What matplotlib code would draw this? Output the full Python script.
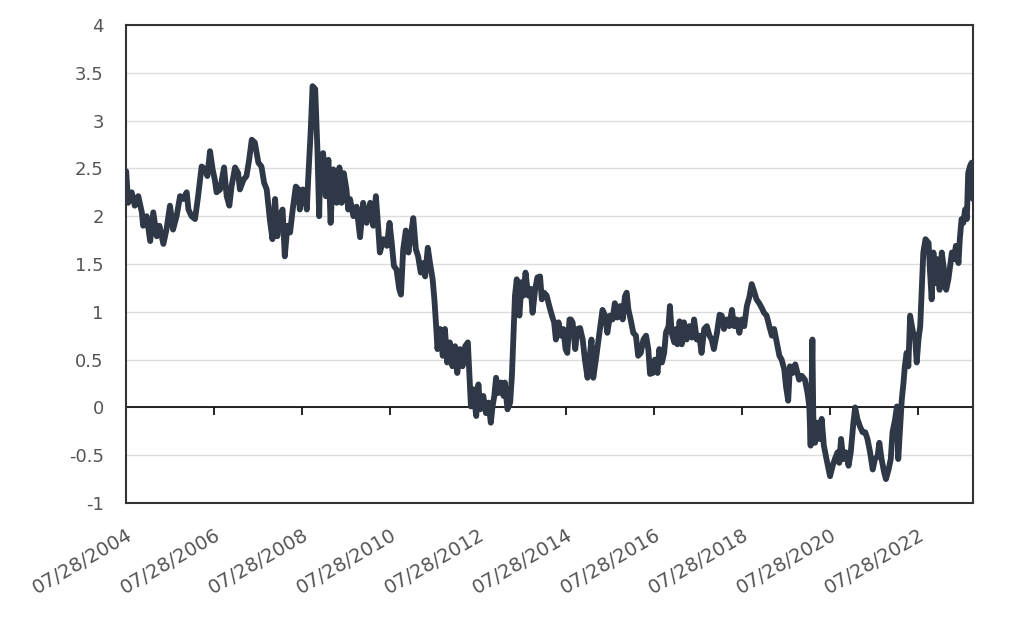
import matplotlib

matplotlib.use("Agg")
import matplotlib.pyplot as plt
import matplotlib.markers as mmarkers
import pandas as pd

# decimal-year positions and values
years = [
    2004.575, 2004.62, 2004.70, 2004.77, 2004.85, 2004.93, 2004.96, 2005.04, 2005.12, 2005.19,
    2005.27, 2005.33, 2005.42, 2005.49, 2005.57, 2005.64, 2005.72, 2005.80, 2005.87, 2005.95,
    2005.99, 2006.06, 2006.14, 2006.21, 2006.29, 2006.37, 2006.42, 2006.48, 2006.54, 2006.59,
    2006.63, 2006.71, 2006.80, 2006.86, 2006.92, 2006.97, 2007.05, 2007.12, 2007.16, 2007.24,
    2007.31, 2007.37, 2007.43, 2007.50, 2007.58, 2007.65, 2007.71, 2007.77, 2007.84, 2007.90,
    2007.96, 2008.01, 2008.07, 2008.13, 2008.18, 2008.24, 2008.30, 2008.36, 2008.43, 2008.49,
    2008.52, 2008.59, 2008.64, 2008.68, 2008.71, 2008.77, 2008.81, 2008.87, 2008.92, 2008.96,
    2008.99, 2009.05, 2009.11, 2009.17, 2009.22, 2009.28, 2009.36, 2009.42, 2009.47, 2009.52,
    2009.58, 2009.62, 2009.66, 2009.74, 2009.81, 2009.89, 2009.96, 2010.04, 2010.12, 2010.19,
    2010.25, 2010.31, 2010.34, 2010.42, 2010.50, 2010.56, 2010.61, 2010.66, 2010.72, 2010.78,
    2010.82, 2010.87, 2010.93, 2010.99, 2011.04, 2011.10, 2011.16, 2011.21, 2011.27, 2011.33,
    2011.37, 2011.43, 2011.48, 2011.54, 2011.58, 2011.62, 2011.65, 2011.71, 2011.77, 2011.82,
    2011.87, 2011.93, 2011.99, 2012.05, 2012.10, 2012.16, 2012.22, 2012.28, 2012.34, 2012.37,
    2012.41, 2012.46, 2012.53, 2012.58, 2012.62, 2012.69, 2012.75, 2012.81, 2012.86, 2012.90,
    2012.94, 2012.98, 2013.03, 2013.09, 2013.15, 2013.18, 2013.24, 2013.30, 2013.34, 2013.37,
    2013.41, 2013.45, 2013.51, 2013.56, 2013.60, 2013.65, 2013.71, 2013.77, 2013.81, 2013.87,
    2013.92, 2013.98, 2014.02, 2014.07, 2014.13, 2014.19, 2014.25, 2014.30, 2014.34, 2014.40,
    2014.45, 2014.51, 2014.56, 2014.60, 2014.65, 2014.68, 2014.72, 2014.78, 2014.83, 2014.89,
    2014.95, 2015.00, 2015.06, 2015.12, 2015.15, 2015.19, 2015.25, 2015.31, 2015.34, 2015.40,
    2015.46, 2015.51, 2015.57, 2015.63, 2015.68, 2015.74, 2015.80, 2015.86, 2015.91, 2015.95,
    2015.99, 2016.04, 2016.10, 2016.16, 2016.21, 2016.27, 2016.33, 2016.39, 2016.44, 2016.48,
    2016.54, 2016.59, 2016.65, 2016.69, 2016.75, 2016.80, 2016.84, 2016.90, 2016.93, 2016.97,
    2017.03, 2017.07, 2017.10, 2017.15, 2017.20, 2017.25, 2017.31, 2017.37, 2017.43, 2017.48,
    2017.54, 2017.60, 2017.65, 2017.71, 2017.77, 2017.83, 2017.88, 2017.93, 2018.00, 2018.06,
    2018.11, 2018.16, 2018.22, 2018.28, 2018.34, 2018.39, 2018.45, 2018.51, 2018.56, 2018.62,
    2018.68, 2018.74, 2018.79, 2018.84, 2018.90, 2018.96, 2019.02, 2019.07, 2019.13, 2019.19,
    2019.25, 2019.30, 2019.36, 2019.42, 2019.47, 2019.53, 2019.57, 2019.62, 2019.66, 2019.72,
    2019.78, 2019.83, 2019.87, 2019.93, 2020.00, 2020.06, 2020.10, 2020.13, 2020.17, 2020.19,
    2020.23, 2020.28, 2020.33, 2020.38, 2020.43, 2020.49, 2020.57, 2020.63, 2020.68, 2020.74,
    2020.78, 2020.82, 2020.87, 2020.93, 2020.99, 2021.04, 2021.10, 2021.14, 2021.19, 2021.25,
    2021.31, 2021.37, 2021.42, 2021.48, 2021.54, 2021.59, 2021.65, 2021.69, 2021.74, 2021.80,
    2021.84, 2021.90, 2021.95, 2021.99, 2022.05, 2022.09, 2022.12, 2022.16, 2022.20, 2022.24,
    2022.27, 2022.31, 2022.35, 2022.39, 2022.43, 2022.46, 2022.50, 2022.54, 2022.58, 2022.62,
    2022.65, 2022.69, 2022.74, 2022.81, 2022.84, 2022.88, 2022.92, 2022.97, 2023.01, 2023.06,
    2023.11, 2023.16, 2023.21, 2023.26, 2023.30, 2023.34, 2023.39, 2023.43, 2023.49, 2023.52,
    2023.56, 2023.60, 2023.64, 2023.68, 2023.71, 2023.75, 2023.79, 2023.82,
]
values = [
    2.47, 2.14, 2.25, 2.11, 2.21, 2.04, 1.90, 2.00, 1.74, 2.04,
    1.79, 1.90, 1.71, 1.86, 2.11, 1.86, 2.00, 2.21, 2.18, 2.25,
    2.07, 2.00, 1.97, 2.21, 2.52, 2.49, 2.42, 2.68, 2.49, 2.38,
    2.25, 2.28, 2.51, 2.21, 2.11, 2.31, 2.51, 2.45, 2.28, 2.38,
    2.42, 2.59, 2.80, 2.77, 2.56, 2.52, 2.35, 2.28, 1.97, 1.76,
    2.18, 1.79, 2.00, 2.07, 1.58, 1.90, 1.83, 2.07, 2.31, 2.28,
    2.07, 2.28, 2.21, 2.07, 2.38, 2.91, 3.36, 3.33, 2.70, 2.00,
    2.63, 2.66, 2.21, 2.59, 1.93, 2.49, 2.14, 2.51, 2.14, 2.45,
    2.28, 2.07, 2.18, 2.00, 2.10, 1.78, 2.14, 1.93, 2.14, 1.90,
    2.21, 1.83, 1.62, 1.76, 1.69, 1.93, 1.72, 1.48, 1.44, 1.24,
    1.18, 1.65, 1.85, 1.62, 1.79, 1.98, 1.65, 1.58, 1.41, 1.51,
    1.37, 1.67, 1.51, 1.34, 1.13, 0.85, 0.61, 0.82, 0.54, 0.82,
    0.47, 0.68, 0.43, 0.64, 0.36, 0.61, 0.43, 0.64, 0.68, 0.40,
    0.01, 0.19, -0.09, 0.24, -0.02, 0.12, -0.06, 0.05, -0.16, 0.01,
    0.12, 0.31, 0.15, 0.26, 0.12, 0.26, -0.02, 0.05, 0.33, 0.68,
    1.17, 1.34, 0.96, 1.31, 1.17, 1.41, 1.17, 1.24, 0.99, 1.24,
    1.36, 1.37, 1.13, 1.20, 1.17, 1.06, 0.96, 0.89, 0.71, 0.89,
    0.75, 0.82, 0.61, 0.57, 0.92, 0.92, 0.89, 0.61, 0.82, 0.83,
    0.71, 0.50, 0.31, 0.57, 0.71, 0.31, 0.50, 0.71, 0.82, 1.02,
    0.96, 0.78, 0.96, 0.92, 1.09, 0.94, 1.06, 0.92, 1.16, 1.20,
    1.02, 0.92, 0.78, 0.75, 0.54, 0.57, 0.71, 0.75, 0.61, 0.35,
    0.36, 0.50, 0.36, 0.61, 0.47, 0.57, 0.78, 0.85, 1.06, 0.78,
    0.68, 0.82, 0.66, 0.90, 0.66, 0.89, 0.71, 0.85, 0.73, 0.92,
    0.71, 0.75, 0.57, 0.82, 0.85, 0.75, 0.71, 0.61, 0.78, 0.97,
    0.96, 0.82, 0.92, 0.85, 1.02, 0.85, 0.92, 0.78, 0.92, 0.85,
    1.06, 1.16, 1.29, 1.22, 1.13, 1.09, 1.04, 0.99, 0.96, 0.85,
    0.75, 0.82, 0.68, 0.54, 0.50, 0.40, 0.22, 0.07, 0.43, 0.36,
    0.45, 0.36, 0.29, 0.33, 0.29, 0.15, 0.01, -0.40, 0.71, -0.09,
    -0.37, -0.16, -0.33, -0.12, -0.40, -0.54, -0.72, -0.61, -0.54, -0.47,
    -0.58, -0.33, -0.54, -0.47, -0.61, -0.47, -0.16, 0.00, -0.12, -0.20,
    -0.26, -0.26, -0.33, -0.47, -0.65, -0.54, -0.51, -0.37, -0.54, -0.68,
    -0.75, -0.65, -0.54, -0.26, -0.12, 0.01, -0.54, -0.23, 0.08, 0.26,
    0.43, 0.57, 0.43, 0.96, 0.85, 0.78, 0.75, 0.47, 0.71, 0.85,
    1.17, 1.62, 1.76, 1.72, 1.44, 1.13, 1.62, 1.30, 1.55, 1.23,
    1.62, 1.44, 1.23, 1.34, 1.48, 1.62, 1.55, 1.69, 1.51, 1.76,
    1.97, 1.93, 2.07, 1.97, 2.45, 2.52, 2.56, 2.18,
]
tick_years = [2004, 2006, 2008, 2010, 2012, 2014, 2016, 2018, 2020, 2022]
y_ticks = [-1, -0.5, 0, 0.5, 1, 1.5, 2, 2.5, 3, 3.5, 4]

LINE_COLOR = "#2f3846"
TEXT_COLOR = "#555555"


def to_date(y):
    year = int(y)
    start = pd.Timestamp(year, 1, 1)
    end = pd.Timestamp(year + 1, 1, 1)
    return start + (end - start) * (y - year)


dates = [to_date(y) for y in years]
tick_dates = [pd.Timestamp(year, 7, 28) for year in tick_years]

plt.rcParams["font.family"] = ["DejaVu Sans"]
plt.rcParams["axes.unicode_minus"] = False

fig = plt.figure(figsize=(10.24, 6.17), dpi=100)
ax = fig.add_axes([126 / 1024, 1 - 503 / 617, 847 / 1024, 478 / 617])

ax.set_ylim(-1, 4)
ax.set_xlim(dates[0], dates[-1])
ax.set_yticks(y_ticks)
ax.set_yticklabels([f"{t:g}" for t in y_ticks])
ax.grid(axis="y", color="#dcdcdc", linewidth=1.0)
ax.set_axisbelow(True)

ax.axhline(0, color="#111111", linewidth=1.3, zorder=2)
ax.plot(tick_dates[1:], [0] * (len(tick_dates) - 1), linestyle="none",
        marker=mmarkers.TICKDOWN, markersize=6, markeredgewidth=1.3,
        color="#111111", zorder=2)

ax.plot(dates, values, color=LINE_COLOR, linewidth=4.2, solid_joinstyle="round",
        solid_capstyle="round", zorder=3)

ax.set_xticks(tick_dates)
ax.set_xticklabels([d.strftime("%m/%d/%Y") for d in tick_dates], rotation=30,
                   ha="right", rotation_mode="anchor")
ax.tick_params(axis="both", length=0, labelcolor=TEXT_COLOR)
ax.tick_params(axis="y", pad=16, labelsize=13)
ax.tick_params(axis="x", pad=16, labelsize=14)

for spine in ax.spines.values():
    spine.set_color("#333333")
    spine.set_linewidth(1.5)

fig.savefig("out.png", dpi=100, facecolor="white")
